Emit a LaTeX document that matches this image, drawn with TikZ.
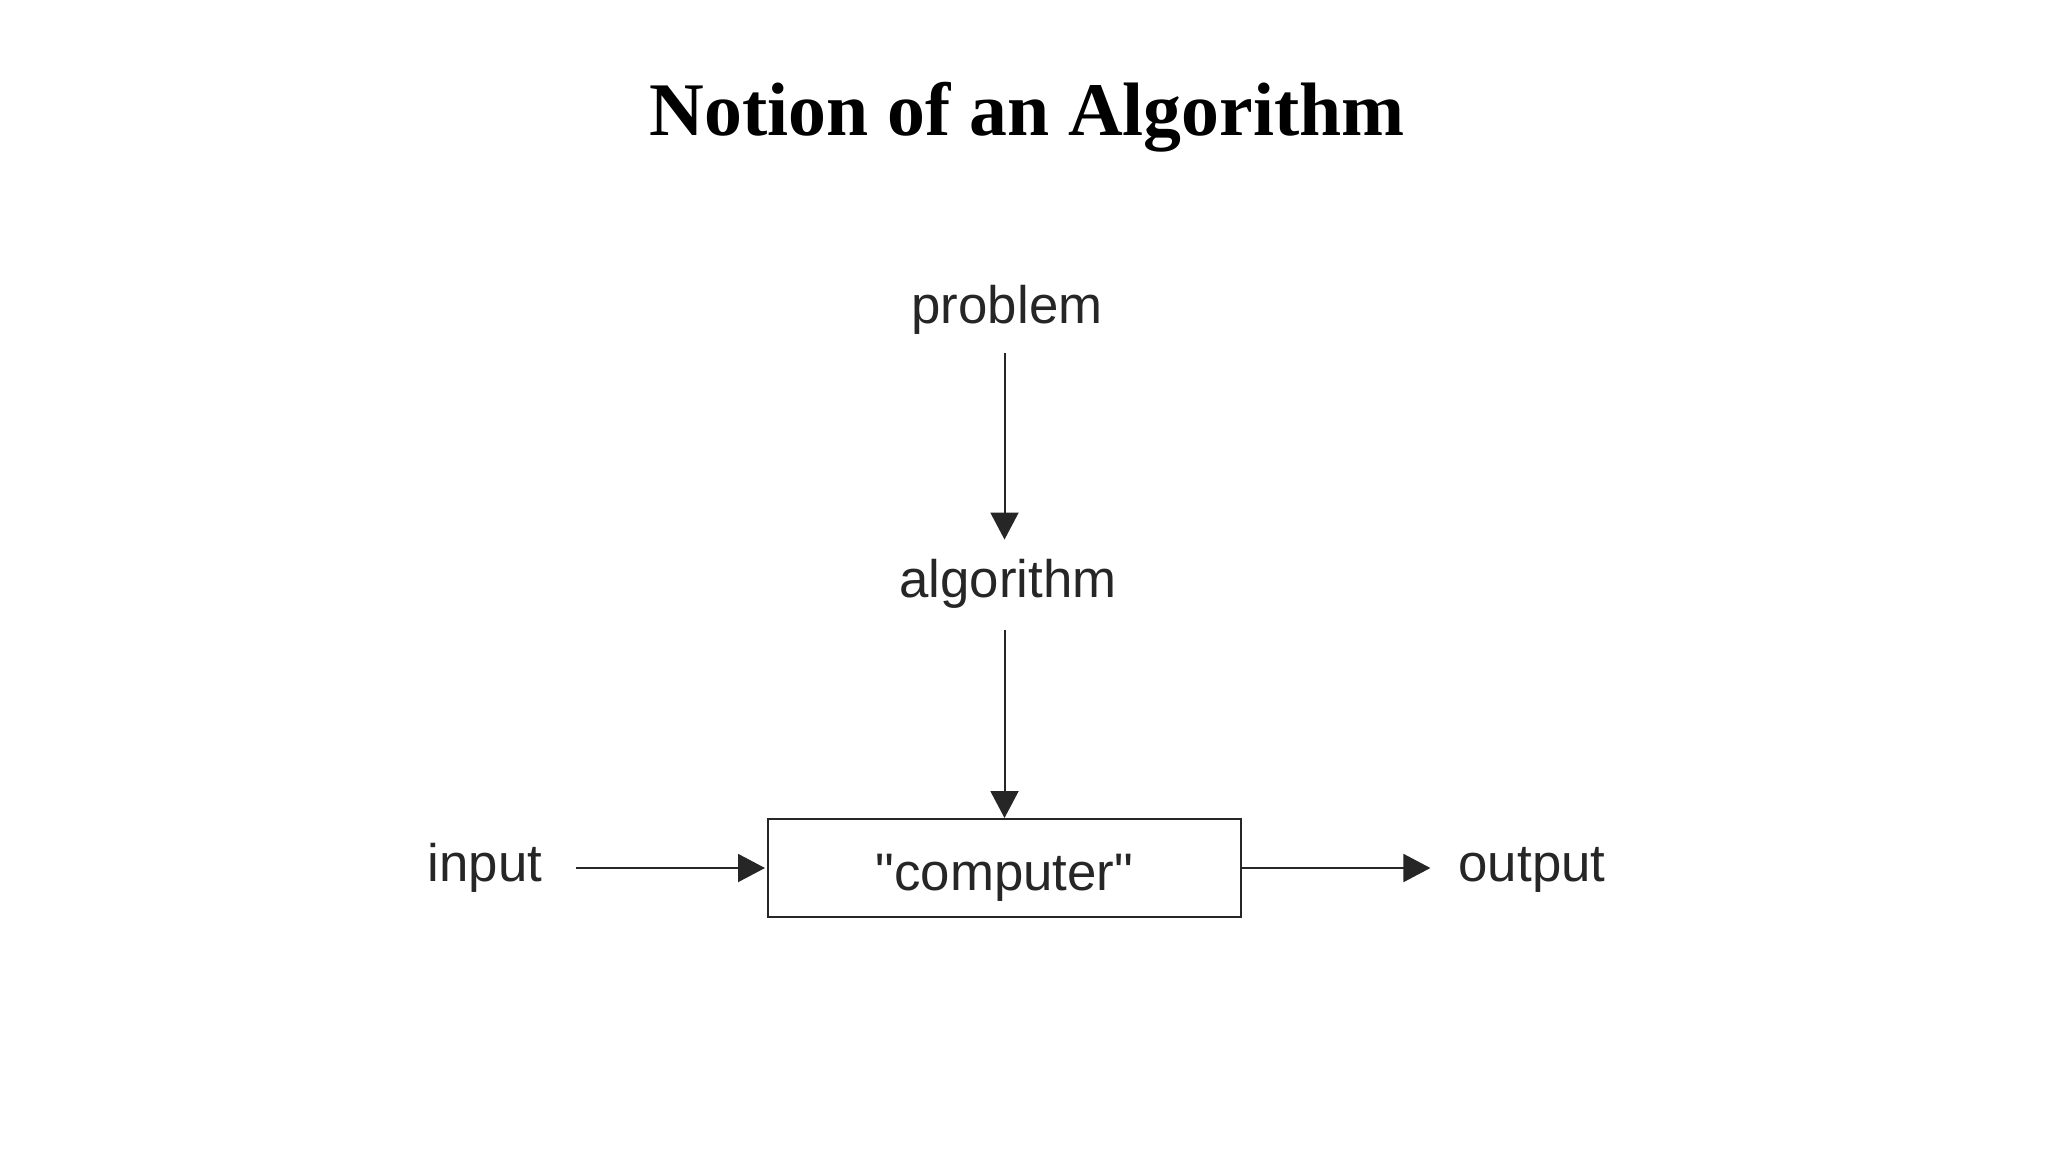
\documentclass[tikz,border=0pt]{standalone}
\usepackage{fontspec}
\setmainfont{Liberation Serif}
\newfontfamily\diagfont{Liberation Sans}
\usetikzlibrary{arrows.meta}
\definecolor{ink}{HTML}{262626}
\tikzset{
  lbl/.style={font=\diagfont\fontsize{53}{60}\selectfont, text=ink, inner sep=0pt, anchor=base},
  conn/.style={draw=ink, line width=2bp, -{Triangle[length=27bp,width=28bp]}},
  compbox/.style={draw=ink, line width=2bp, minimum width=473bp, minimum height=98bp, inner sep=0pt,
    font=\diagfont\fontsize{53}{60}\selectfont, text=ink}
}
\begin{document}
\begin{tikzpicture}[x=1bp,y=-1bp]
\useasboundingbox (0,0) rectangle (2048,1152);
\node[anchor=base, inner sep=0pt, font=\bfseries\fontsize{76}{84}\selectfont] (title) at (1027,135) {Notion of an Algorithm};
\node[lbl] (problem) at (1007,323) {problem};
\node[lbl] (algorithm) at (1008,597) {algorithm};
\node[compbox] (box) at (1004.5,868) {\raisebox{-9bp}[38bp][11bp]{"computer"}};
\node[lbl] (input) at (485,881) {input};
\node[lbl] (output) at (1532,881) {output};
\draw[conn, shorten <=19bp, shorten >=19bp] (problem.south -| box.north) -- (algorithm.north -| box.north);
\draw[conn, shorten <=22bp] (algorithm.south -| box.north) -- (box.north);
\draw[conn, shorten <=34bp, shorten >=2bp] (box.west -| input.east) -- (box.west);
\draw[conn, shorten >=28bp] (box.east) -- (box.east -| output.west);
\end{tikzpicture}
\end{document}
